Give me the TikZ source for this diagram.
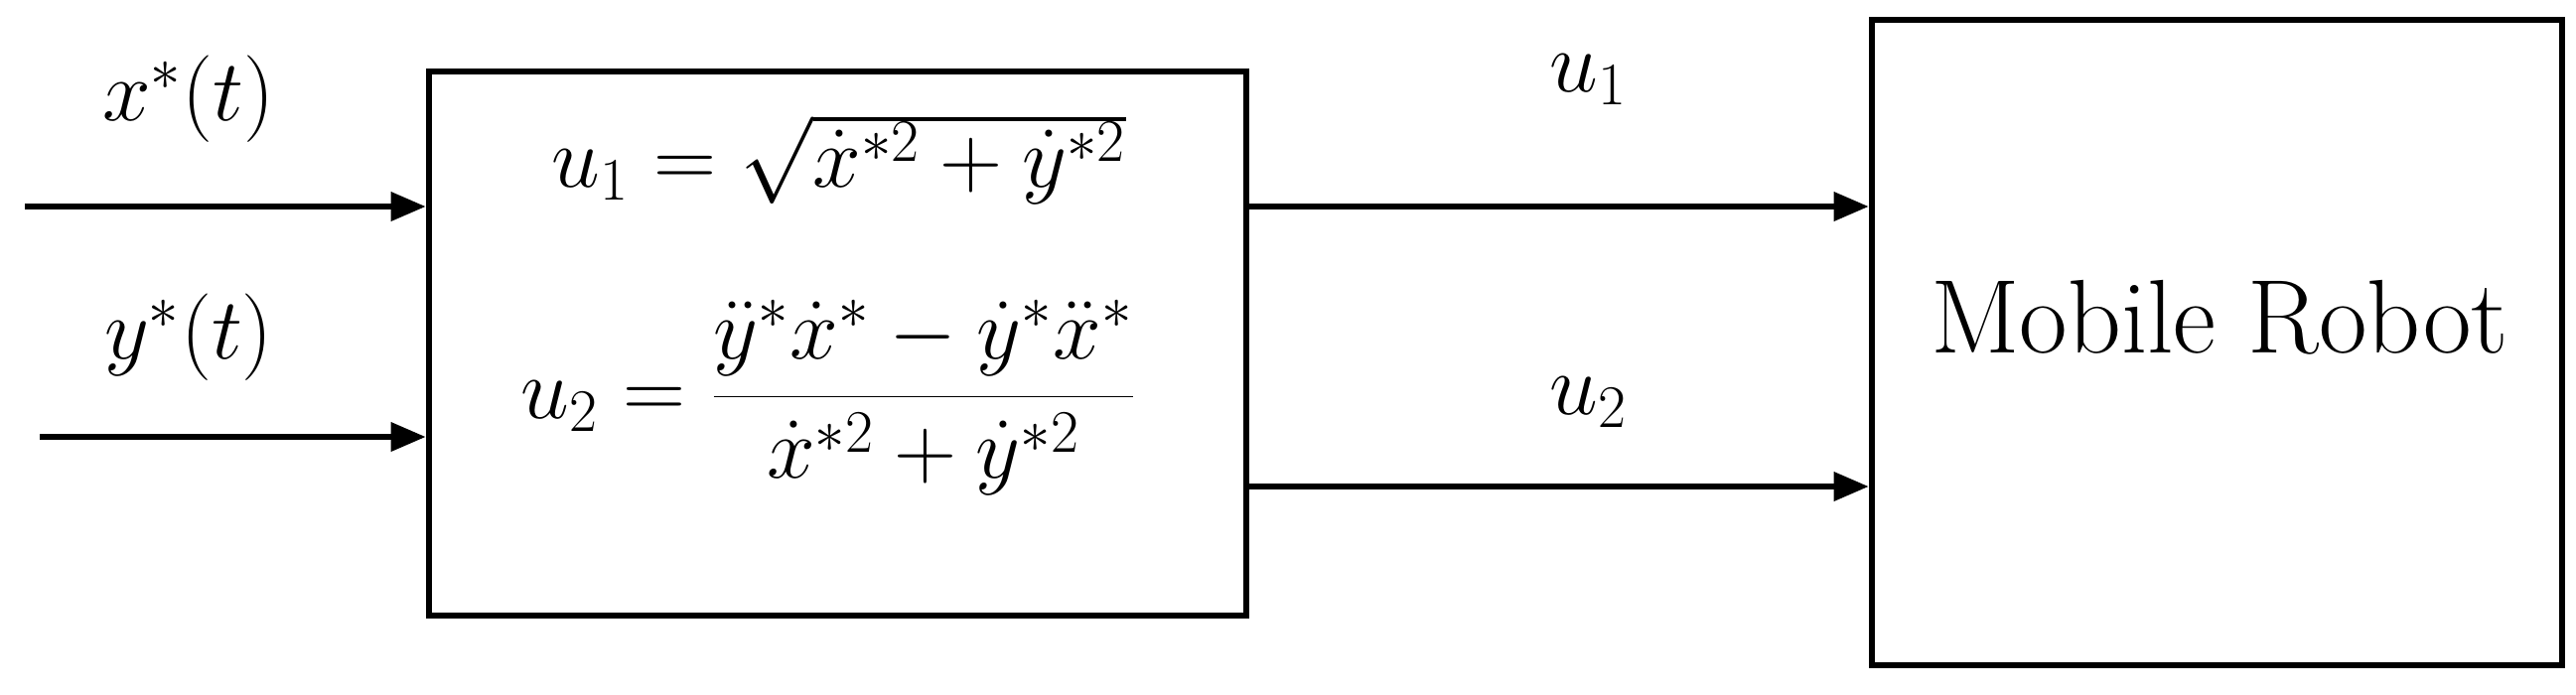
\documentclass[tikz,border=0pt]{standalone}
\usetikzlibrary{arrows.meta}
\begin{document}
\begin{tikzpicture}[x=0.01cm,y=-0.01cm,
  blk/.style={draw,line width=1.8pt,inner sep=0pt},
  arr/.style={line width=1.8pt,-{Triangle[length=10pt,width=8pt]}},
  lbl/.style={font=\fontsize{27}{32}\selectfont},
  big/.style={font=\fontsize{30}{36}\selectfont}]
\useasboundingbox (0,0) rectangle (2594,699);
\node[blk,minimum width=823*0.01cm,minimum height=548*0.01cm] (ctrl) at (843.5,346) {};
\node[blk,minimum width=695*0.01cm,minimum height=650*0.01cm] (robot) at (2232.5,345) {};
\node[big] (rl) at (2235,320) {Mobile Robot};
\node[lbl] (e1) at (845,160) {$u_1=\sqrt{\dot x^{*2}+\dot y^{*2}}$};
\node[lbl] (e2) at (835,400) {$u_2=\displaystyle\frac{\ddot y^{*}\dot x^{*}-\dot y^{*}\ddot x^{*}}{\dot x^{*2}+\dot y^{*2}}$};
\coordinate (xin) at (25,208);
\coordinate (yin) at (40,440);
\draw[arr] (xin) -- (xin -| ctrl.west);
\draw[arr] (yin) -- (yin -| ctrl.west);
\coordinate (o1) at (1255,208);
\coordinate (o2) at (1255,490);
\draw[arr] (o1) -- (o1 -| robot.west);
\draw[arr] (o2) -- (o2 -| robot.west);
\node[lbl] (lx) at (190,100) {$x^{*}(t)$};
\node[lbl] (ly) at (190,340) {$y^{*}(t)$};
\node[lbl] (l1) at (1600,80) {$u_1$};
\node[lbl] (l2) at (1600,405) {$u_2$};
\end{tikzpicture}
\end{document}
